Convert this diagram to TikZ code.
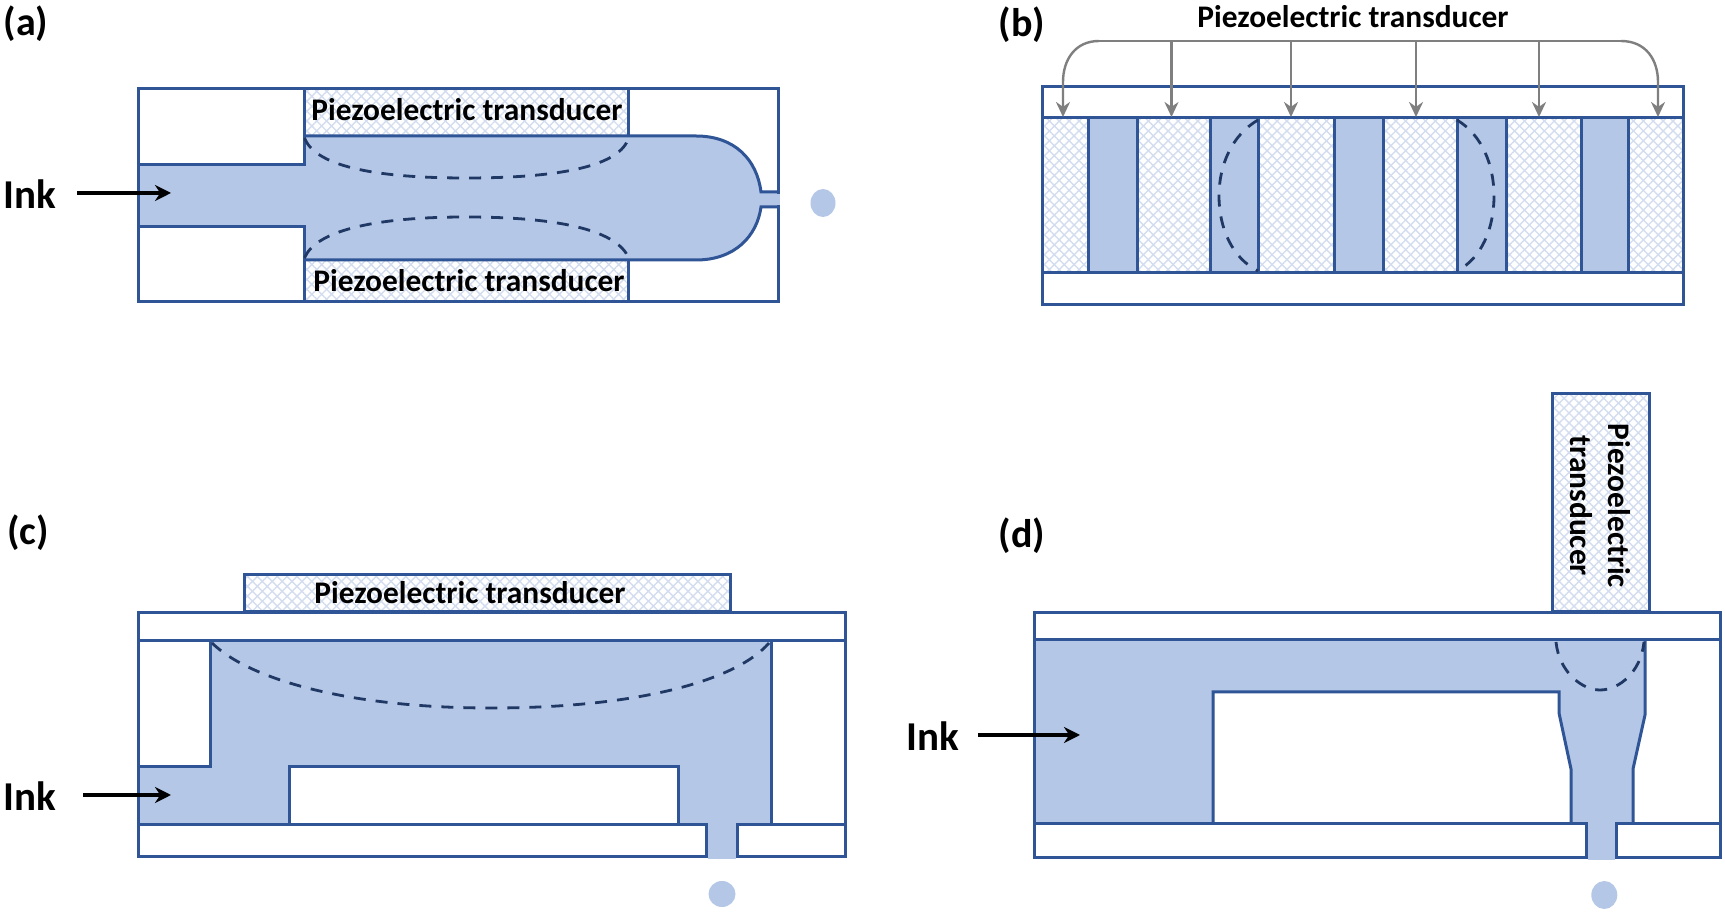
\documentclass[tikz,border=0pt]{standalone}
\usepackage{fontspec}
\setmainfont{Carlito}
\usetikzlibrary{arrows.meta,patterns.meta}
\definecolor{edgeblue}{HTML}{2F5597}
\definecolor{inkblue}{HTML}{B4C7E7}
\definecolor{dashblue}{HTML}{1F3864}
\definecolor{hatchblue}{HTML}{D3DDEF}
\definecolor{leadgray}{HTML}{7F7F7F}
\tikzset{
  wall/.style={draw=edgeblue,line width=1.5pt,line join=miter},
  hatched/.style={
    preaction={fill=white},
    preaction={pattern={Lines[angle=45,distance=3.5pt,line width=.7pt]},pattern color=hatchblue},
    pattern={Lines[angle=-45,distance=3.5pt,line width=.7pt]},pattern color=hatchblue},
  flexline/.style={draw=dashblue,line width=1.4pt,dash pattern=on 6pt off 5pt},
  inkarrow/.style={draw=black,line width=1.9pt,-{Stealth[length=8pt,width=8pt]}},
  leadarrow/.style={draw=leadgray,line width=1.2pt,-{Stealth[length=7.5pt,width=7pt]}},
  panel/.style={font=\fontsize{20}{22}\selectfont\bfseries,inner sep=0pt},
  inklabel/.style={font=\fontsize{20.5}{22}\selectfont\bfseries,inner sep=0pt},
  tlabel/.style={font=\fontsize{15.7}{17}\selectfont\bfseries,inner sep=0pt,align=center},
}
\begin{document}
\begin{tikzpicture}[x=0.5pt,y=-0.5pt]
\useasboundingbox[fill=white] (0,0) rectangle (1725,913);
% ---------- panel a
\fill[inkblue] (138,165) -- (304.5,165) -- (304.5,136) -- (696,136)
  .. controls (735,136) and (757,160) .. (761,192) -- (778,192) -- (778,207) -- (761,207)
  .. controls (757,236) and (735,260) .. (696,260) -- (304.5,260) -- (304.5,227) -- (138,227) -- cycle;
\path[hatched] (304.5,89) rectangle (628.6,136);
\path[hatched] (304.5,260) rectangle (628.6,302);
\draw[wall] (138,89) rectangle (778,302);
\draw[wall] (138,165) -- (304.5,165) -- (304.5,89);
\draw[wall] (138,227) -- (304.5,227) -- (304.5,302);
\draw[wall] (628.6,89) -- (628.6,136);
\draw[wall] (628.6,260) -- (628.6,302);
\draw[wall] (304.5,136) -- (696,136) .. controls (735,136) and (757,160) .. (761,192) -- (778,192);
\draw[wall] (304.5,260) -- (696,260) .. controls (735,260) and (757,236) .. (761,207) -- (778,207);
\fill[inkblue] (761,194) rectangle (780,205);
\draw[flexline] (304.5,138) .. controls (315,165) and (370,178) .. (466,178) .. controls (565,178) and (620,165) .. (628.6,138);
\draw[flexline] (304.5,258) .. controls (315,232) and (370,217) .. (466,217) .. controls (565,217) and (618,232) .. (628.6,258);
\fill[inkblue] (823,203) ellipse[x radius=12.5,y radius=14];
\node[tlabel] (ta1) at (467,110) {Piezoelectric transducer};
\node[tlabel] (ta2) at (469,281) {Piezoelectric transducer};
\node[inklabel] (inka) at (30,194) {Ink};
\coordinate (inkatip) at (171,193);
\coordinate (inkastart) at (77,193);
\draw[inkarrow] (inkastart) -- (inkatip);
\node[panel] (la) at (26,24) {(a)};
% ---------- panel b
\foreach \a/\b in {1042/1088,1137.5/1210,1258/1334,1383.4/1457,1506/1581,1628/1683}
  \path[hatched] (\a,118) rectangle (\b,273);
\foreach \a/\b in {1088/1137.5,1210/1258,1334/1383.4,1457/1506,1581/1628}{
  \fill[inkblue] (\a,118) rectangle (\b,273);
  \draw[wall] (\a,118) -- (\a,273);
  \draw[wall] (\b,118) -- (\b,273);
}
\draw[wall] (1042,87) rectangle (1683,305);
\draw[wall] (1042,118) -- (1683,118);
\draw[wall] (1042,273) -- (1683,273);
\draw[flexline] (1258,120) .. controls (1232,135) and (1219,165) .. (1219,196) .. controls (1219,228) and (1232,258) .. (1258,271);
\draw[flexline] (1457,120) .. controls (1482,135) and (1494,165) .. (1494,196) .. controls (1494,228) and (1482,258) .. (1457,271);
\node[tlabel] (tb) at (1353,17) {Piezoelectric transducer};
\coordinate (busl) at (1099,41);
\coordinate (busr) at (1621,41);
\foreach \n/\x in {c1/1171.5,c2/1291,c3/1416,c4/1539}{
  \coordinate (bus\n) at (\x,41);
  \coordinate (tip\n) at (\x,117);
  \draw[leadarrow] (bus\n) -- (tip\n);
}
\coordinate (tipl) at (1063,117);
\coordinate (tipr) at (1658,117);
\draw[leadarrow] (busl) .. controls (1075,41) and (1063,60) .. (1063,82) -- (tipl);
\draw[leadarrow] (busr) .. controls (1646,41) and (1658,60) .. (1658,82) -- (tipr);
\draw[draw=leadgray,line width=1.2pt] (busl) -- (busr);
\node[panel] (lb) at (1022,25) {(b)};
% ---------- panel c
\fill[inkblue] (138,767) -- (210,767) -- (210,641) -- (771,641) -- (771,825) -- (737,825) -- (737,857)
  -- (706,857) -- (706,825) -- (678.5,825) -- (678.5,767) -- (289,767) -- (289,825) -- (138,825) -- cycle;
\path[hatched,wall] (244,575) rectangle (730.5,612);
\draw[wall] (138,613) rectangle (845,641);
\draw[wall] (138,641) -- (138,825);
\draw[wall] (845,641) -- (845,825);
\draw[wall] (138,767) -- (210,767) -- (210,641);
\draw[wall] (771,641) -- (771,825);
\draw[wall] (289,825) -- (289,767) -- (678.5,767) -- (678.5,825);
\draw[wall] (706,857) -- (138,857) -- (138,825) -- (706,825) -- cycle;
\draw[wall] (737,825) -- (845,825) -- (845,857) -- (737,857) -- cycle;
\fill[inkblue] (707.5,826) rectangle (735.5,859);
\draw[flexline] (212,643) .. controls (250,680) and (350,708) .. (491,708) .. controls (640,708) and (737,680) .. (769,643);
\fill[inkblue] (722,894) ellipse[x radius=13.5,y radius=13];
\node[tlabel] (tc) at (470,593) {Piezoelectric transducer};
\node[inklabel] (inkc) at (30,796) {Ink};
\coordinate (inkctip) at (171,795);
\coordinate (inkcstart) at (83,795);
\draw[inkarrow] (inkcstart) -- (inkctip);
\node[panel] (lc) at (28,533) {(c)};
% ---------- panel d
\fill[inkblue] (1034.5,640) -- (1645,640) -- (1645,715) -- (1633,769) -- (1633,824) -- (1616.5,824) -- (1616.5,858)
  -- (1586,858) -- (1586,824) -- (1571,824) -- (1571,769) -- (1559,713) -- (1559,692) -- (1213,692) -- (1213,824) -- (1034.5,824) -- cycle;
\path[hatched,wall] (1552.7,394) rectangle (1649,612);
\draw[wall] (1034.5,613) rectangle (1720,640);
\draw[wall] (1034.5,640) -- (1034.5,824);
\draw[wall] (1720,640) -- (1720,824);
\draw[wall] (1645,640) -- (1645,715) -- (1633,769) -- (1633,824);
\draw[wall] (1213,824) -- (1213,692) -- (1559,692) -- (1559,713) -- (1571,769) -- (1571,824);
\draw[wall] (1586,858) -- (1034.5,858) -- (1034.5,824) -- (1586,824) -- cycle;
\draw[wall] (1616.5,824) -- (1720,824) -- (1720,858) -- (1616.5,858) -- cycle;
\fill[inkblue] (1587.5,825) rectangle (1615,860);
\draw[flexline] (1556,642) .. controls (1559,672) and (1582,690) .. (1600,690) .. controls (1619,690) and (1641,672) .. (1644,642);
\fill[inkblue] (1604.3,895) ellipse[x radius=13,y radius=14];
\node[tlabel,rotate=-90] (td1) at (1619,506) {Piezoelectric};
\node[tlabel,rotate=-90] (td2) at (1581,506) {transducer};
\node[inklabel] (inkd) at (933,736) {Ink};
\coordinate (inkdtip) at (1080,735);
\coordinate (inkdstart) at (978,735);
\draw[inkarrow] (inkdstart) -- (inkdtip);
\node[panel] (ld) at (1022,536) {(d)};
\end{tikzpicture}
\end{document}
